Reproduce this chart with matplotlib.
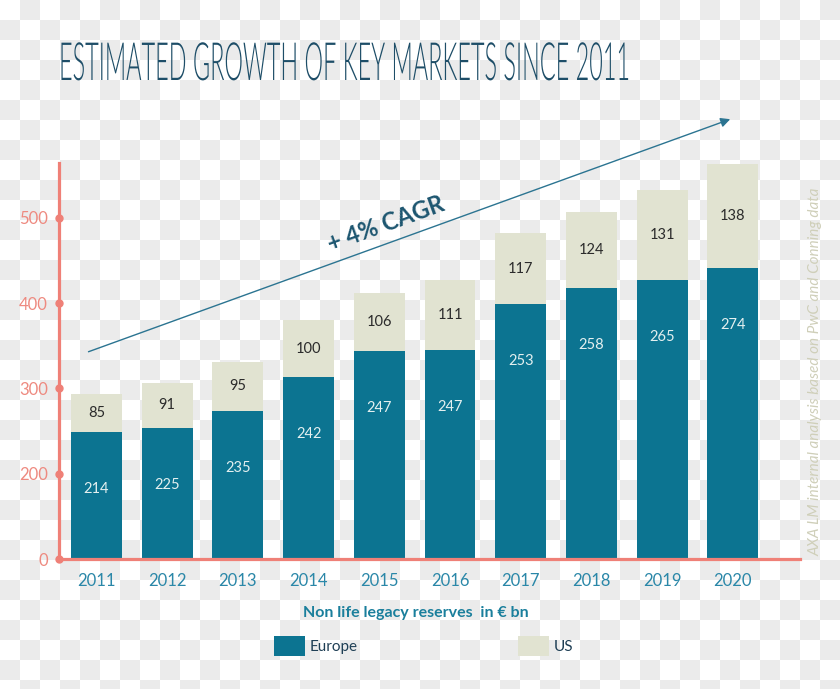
import numpy as np
import matplotlib
matplotlib.use("Agg")
import matplotlib.pyplot as plt
import matplotlib.patheffects as pe
from matplotlib.transforms import Affine2D

# data
years = ["2011", "2012", "2013", "2014", "2015", "2016", "2017", "2018", "2019", "2020"]
europe = [214, 225, 235, 242, 247, 247, 253, 258, 265, 274]
us = [85, 91, 95, 100, 106, 111, 117, 124, 131, 138]
# segment heights as drawn on the picture's own (irregular) axis
europe_h = [149, 154, 174, 213, 244, 245, 299, 318, 327, 341]
us_h = [45, 53, 57, 67, 68, 82, 83, 89, 106, 122]
ytick_pos = [0, 100, 200, 300, 400]
ytick_labels = ["0", "200", "300", "400", "500"]

EUROPE_C = "#0c7491"
US_C = "#e1e3d1"
AXIS_C = "#ef8077"
TEAL = "#2a87a8"
DARK = "#1e4e68"

plt.rcParams["font.family"] = ["Lato", "DejaVu Sans"]


class Stretch(pe.AbstractPathEffect):
    """stretch text vertically (mimics the tall condensed title font)"""
    def __init__(self, sy):
        super().__init__()
        self.sy = sy

    def draw_path(self, renderer, gc, tpath, affine, rgbFace=None):
        renderer.draw_path(gc, tpath, Affine2D().scale(1, self.sy) + affine, rgbFace)


fig = plt.figure(figsize=(8.4, 6.89), dpi=100)

# checkerboard background like the reference
h, w = 689, 840
rows, cols = np.indices((h, w))
board = ((rows // 20 + cols // 20) % 2).astype(float)
bg = np.ones((h, w, 3))
bg[board == 1] = np.array([235, 235, 235]) / 255.0
fig.figimage(bg, 0, 0, zorder=-10)

ax = fig.add_axes([59 / 840, 130 / 689, (800 - 59) / 840, (526 - 130) / 689])
ax.patch.set_alpha(0)

x = np.arange(len(years))
b1 = ax.bar(x, europe_h, width=0.72, color=EUROPE_C, label="Europe", zorder=2)
b2 = ax.bar(x, us_h, width=0.72, bottom=europe_h, color=US_C, label="US", zorder=2)

for i in range(len(years)):
    ax.annotate(str(europe[i]), (x[i], europe_h[i]), xytext=(0, -57),
                textcoords="offset pixels", ha="center", va="center",
                color="#e4f0f0", fontsize=10.5)
    ax.text(x[i], europe_h[i] + us_h[i] / 2, str(us[i]), ha="center", va="center",
            color="#2b2b2b", fontsize=10.5)

ax.set_xlim(-0.53, 9.95)
ax.set_ylim(0, 464.5)

for s in ["top", "right"]:
    ax.spines[s].set_visible(False)
for s in ["left", "bottom"]:
    ax.spines[s].set_color(AXIS_C)
    ax.spines[s].set_linewidth(2.3)

ax.set_xticks(x)
ax.set_xticklabels(years)
ax.set_yticks(ytick_pos)
ax.set_yticklabels(ytick_labels)
ax.tick_params(axis="x", length=0, pad=10, labelsize=12, labelcolor=TEAL)
ax.tick_params(axis="y", length=0, pad=8, labelsize=12, labelcolor="#ee8a80")
ax.plot([ax.get_xlim()[0]] * len(ytick_pos), ytick_pos, "o", color=AXIS_C,
        markersize=5, clip_on=False, zorder=5)

# growth arrow
ax.annotate("", xy=(9.0, 517), xytext=(-0.15, 242), annotation_clip=False,
            arrowprops=dict(arrowstyle="-|>", color="#2b7491", lw=1, mutation_scale=14))
ax.text(4.09, 393, "+ 4% CAGR", rotation=20, rotation_mode="anchor", ha="center",
        va="center", color="#1d5670", fontsize=17, fontweight="bold")

# title: size it to the reference width, then stretch it up to the reference height
title_text = "ESTIMATED GROWTH OF KEY MARKETS SINCE 2011"
title = fig.text(59 / 840, (689 - 80) / 689, title_text, ha="left", va="baseline",
                 fontsize=38, fontweight=300, color=DARK)
fig.canvas.draw()
sx = 571 / title.get_window_extent().width
title.set_fontsize(38 * sx)
title.set_path_effects([Stretch(1 / sx)])

fig.text(416 / 840, (689 - 613) / 689, "Non life legacy reserves  in \u20ac bn", ha="center",
         va="center", fontsize=11.5, fontweight="bold", color="#1a7f9c")
fig.text(815 / 840, (689 - 372) / 689, "AXA LM internal analysis based on PwC and Conning data",
         rotation=90, ha="center", va="center", fontsize=11, style="italic", color="#cfcfb9")

leg = fig.legend(handles=[b1, b2], loc="center", bbox_to_anchor=(424 / 840, (689 - 646) / 689),
                 ncol=2, frameon=False, fontsize=11, handlelength=2.0, handleheight=1.65,
                 handletextpad=0.33, columnspacing=10.5, borderaxespad=0)
for t in leg.get_texts():
    t.set_color("#1f3f55")

fig.savefig("out.png", dpi=100)
